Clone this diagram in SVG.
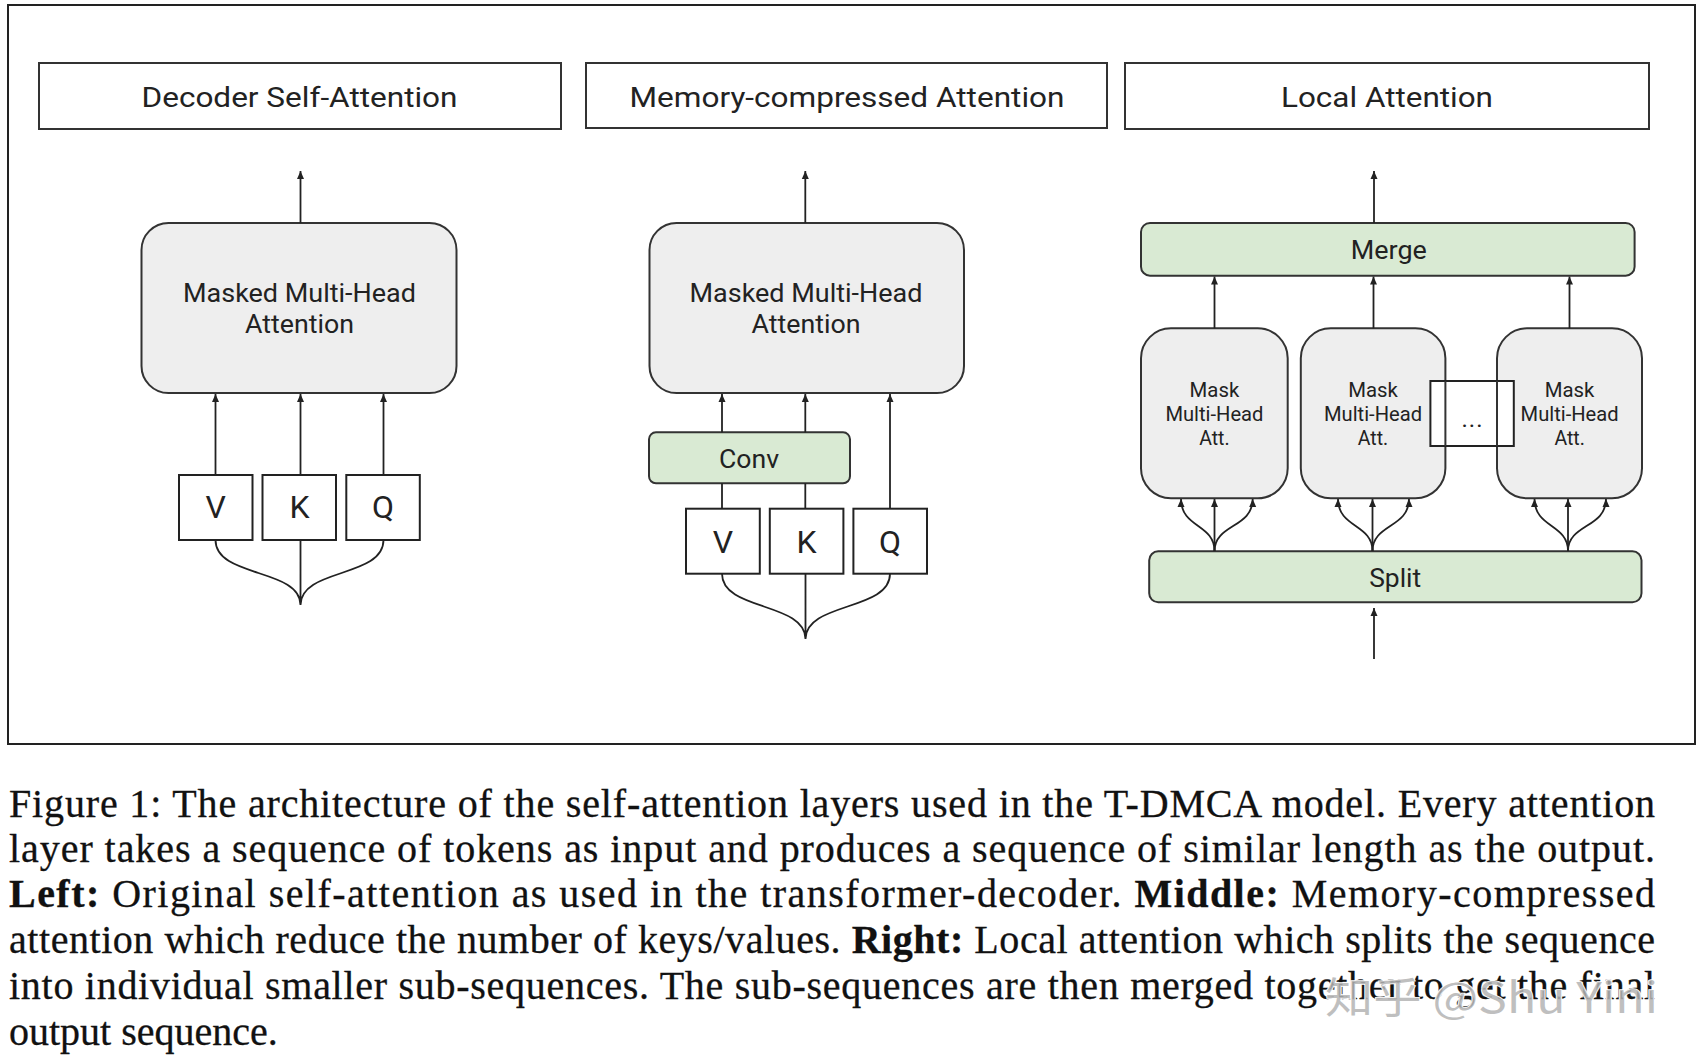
<svg xmlns="http://www.w3.org/2000/svg" width="1703" height="1062" viewBox="0 0 1703 1062">
<style>
.frame{fill:none;stroke:#222;stroke-width:2}
.title{fill:#fff;stroke:#333;stroke-width:2}
.mha{fill:#eeeeee;stroke:#333;stroke-width:2}
.green{fill:#d9ead3;stroke:#333;stroke-width:2}
.box{fill:#fff;stroke:#222;stroke-width:2}
.outline{fill:none;stroke:#333;stroke-width:2}
.ln{fill:none;stroke:#222;stroke-width:1.8}
.arr{fill:none;stroke:#222;stroke-width:1.8;marker-end:url(#ah)}
.t{font-family:Roboto,"Liberation Sans",sans-serif;fill:#222}
.cap{font-family:"Liberation Serif","Times New Roman",serif;font-size:40px;fill:#111;stroke:#111;stroke-width:0.3}
.b{font-weight:bold}
</style>
<defs>
<marker id="ah" markerWidth="8" markerHeight="8" refX="8" refY="4" orient="auto" markerUnits="userSpaceOnUse"><path d="M0,0.5 L8,4 L0,7.5 z" fill="#222"/></marker>
</defs>
<rect width="1703" height="1062" fill="#fff"/>
<rect class="frame" x="8" y="5" width="1687" height="739"/>

<g id="title-decoder"><rect class="title" x="39" y="63" width="522" height="66"/><text class="t" x="141.5" y="107" font-size="28" textLength="316" lengthAdjust="spacingAndGlyphs">Decoder Self-Attention</text></g>
<g id="title-memory"><rect class="title" x="586" y="63" width="521" height="65"/><text class="t" x="629.5" y="107" font-size="28" textLength="435" lengthAdjust="spacingAndGlyphs">Memory-compressed Attention</text></g>
<g id="title-local"><rect class="title" x="1125" y="63" width="524" height="66"/><text class="t" x="1281" y="107" font-size="28" textLength="212" lengthAdjust="spacingAndGlyphs">Local Attention</text></g>

<g id="mha-left"><rect class="mha" x="141.5" y="223" width="315" height="170" rx="27"/><text class="t" x="183" y="302" font-size="25.5" textLength="233" lengthAdjust="spacingAndGlyphs">Masked Multi-Head</text><text class="t" x="245" y="333" font-size="25.5" textLength="109" lengthAdjust="spacingAndGlyphs">Attention</text></g>
<g id="v-left"><rect class="box" x="179" y="475" width="73.5" height="65"/><text class="t" x="215.8" y="518" font-size="32" text-anchor="middle">V</text></g>
<g id="k-left"><rect class="box" x="262.5" y="475" width="73.5" height="65"/><text class="t" x="299.5" y="518" font-size="32" text-anchor="middle">K</text></g>
<g id="q-left"><rect class="box" x="346.3" y="475" width="73.5" height="65"/><text class="t" x="383" y="518" font-size="32" text-anchor="middle">Q</text></g>

<g id="mha-mid"><rect class="mha" x="649.5" y="223" width="314.5" height="170" rx="27"/><text class="t" x="689.5" y="302" font-size="25.5" textLength="233" lengthAdjust="spacingAndGlyphs">Masked Multi-Head</text><text class="t" x="751.6" y="333" font-size="25.5" textLength="109" lengthAdjust="spacingAndGlyphs">Attention</text></g>
<g id="conv"><rect class="green" x="649" y="432.3" width="201" height="51" rx="7"/><text class="t" x="719" y="468" font-size="26" textLength="60" lengthAdjust="spacingAndGlyphs">Conv</text></g>
<g id="v-mid"><rect class="box" x="686" y="508.7" width="73.8" height="65"/><text class="t" x="723" y="553" font-size="32" text-anchor="middle">V</text></g>
<g id="k-mid"><rect class="box" x="769.8" y="508.7" width="73.6" height="65"/><text class="t" x="806.6" y="553" font-size="32" text-anchor="middle">K</text></g>
<g id="q-mid"><rect class="box" x="853.4" y="508.7" width="73.6" height="65"/><text class="t" x="890" y="553" font-size="32" text-anchor="middle">Q</text></g>

<g id="merge"><rect class="green" x="1141" y="223" width="493.6" height="52.7" rx="9"/><text class="t" x="1350.8" y="259" font-size="26" textLength="76" lengthAdjust="spacingAndGlyphs">Merge</text></g>
<g id="head-1"><rect class="mha" x="1141" y="328.3" width="146.7" height="170" rx="30"/><text class="t" x="1189.6" y="397" font-size="20" textLength="49.6" lengthAdjust="spacingAndGlyphs">Mask</text><text class="t" x="1165.4" y="421" font-size="20" textLength="98" lengthAdjust="spacingAndGlyphs">Multi-Head</text><text class="t" x="1199.2" y="445" font-size="20" textLength="30.4" lengthAdjust="spacingAndGlyphs">Att.</text></g>
<g id="head-2"><rect class="mha" x="1300.8" y="328.3" width="144.6" height="170" rx="30"/><text class="t" x="1348.2" y="397" font-size="20" textLength="49.6" lengthAdjust="spacingAndGlyphs">Mask</text><text class="t" x="1324" y="421" font-size="20" textLength="98" lengthAdjust="spacingAndGlyphs">Multi-Head</text><text class="t" x="1357.8" y="445" font-size="20" textLength="30.4" lengthAdjust="spacingAndGlyphs">Att.</text></g>
<g id="head-3"><rect class="mha" x="1497" y="328.3" width="145" height="170" rx="30"/><text class="t" x="1544.8" y="397" font-size="20" textLength="49.6" lengthAdjust="spacingAndGlyphs">Mask</text><text class="t" x="1520.6" y="421" font-size="20" textLength="98" lengthAdjust="spacingAndGlyphs">Multi-Head</text><text class="t" x="1554.4" y="445" font-size="20" textLength="30.4" lengthAdjust="spacingAndGlyphs">Att.</text></g>
<g id="ellipsis"><rect class="box" x="1430.4" y="381" width="83.4" height="65"/><path class="outline" d="M1445.4,381 V446 M1497,381 V446"/><text class="t" x="1461.5" y="427" font-size="24" textLength="21" lengthAdjust="spacing">...</text></g>
<g id="split"><rect class="green" x="1149.2" y="551.3" width="492.3" height="51" rx="9"/><text class="t" x="1369.2" y="587" font-size="26" textLength="52" lengthAdjust="spacingAndGlyphs">Split</text></g>

<g id="connectors">
<path class="arr" d="M300.5,223 V171"/>
<path class="arr" d="M215.5,475 V394"/>
<path class="arr" d="M300.5,475 V394"/>
<path class="arr" d="M383.5,475 V394"/>
<path class="ln" d="M215.5,540 C215.5,578 300.5,568 300.5,605 M383.5,540 C383.5,578 300.5,568 300.5,605 M300.5,540 V605"/>

<path class="arr" d="M805.3,223 V171"/>
<path class="arr" d="M722,432.3 V394"/>
<path class="arr" d="M805.3,432.3 V394"/>
<path class="arr" d="M890,508.7 V394"/>
<path class="ln" d="M722,508.7 V483.3 M805.3,508.7 V483.3"/>
<path class="ln" d="M722,573.7 C722,611 805.5,602 805.5,639 M890,573.7 C890,611 805.5,602 805.5,639 M805.5,573.7 V639"/>

<path class="arr" d="M1374,223 V171"/>
<path class="arr" d="M1214.5,328.3 V276.5"/>
<path class="arr" d="M1373.5,328.3 V276.5"/>
<path class="arr" d="M1569.5,328.3 V276.5"/>
<path class="arr" d="M1214.5,551 V499"/>
<path class="arr" d="M1214.5,551 C1214.5,524 1181,528 1181,499"/>
<path class="arr" d="M1214.5,551 C1214.5,524 1252.7,528 1252.7,499"/>
<path class="arr" d="M1372.5,551 V499"/>
<path class="arr" d="M1372.5,551 C1372.5,524 1338,528 1338,499"/>
<path class="arr" d="M1372.5,551 C1372.5,524 1409,528 1409,499"/>
<path class="arr" d="M1568,551 V499"/>
<path class="arr" d="M1568,551 C1568,524 1534.5,528 1534.5,499"/>
<path class="arr" d="M1568,551 C1568,524 1606,528 1606,499"/>
<path class="arr" d="M1374,659 V608"/>
</g>

<g id="caption">
<text class="cap" x="9" y="817" textLength="1646" lengthAdjust="spacing">Figure 1: The architecture of the self-attention layers used in the T-DMCA model. Every attention</text>
<text class="cap" x="9" y="862" textLength="1646" lengthAdjust="spacing">layer takes a sequence of tokens as input and produces a sequence of similar length as the output.</text>
<text class="cap" x="9" y="907" textLength="1646" lengthAdjust="spacing"><tspan class="b">Left:</tspan>  Original self-attention as used in the transformer-decoder.  <tspan class="b">Middle:</tspan>  Memory-compressed</text>
<text class="cap" x="9" y="953" textLength="1646" lengthAdjust="spacing">attention which reduce the number of keys/values. <tspan class="b">Right:</tspan> Local attention which splits the sequence</text>
<text class="cap" x="9" y="999" textLength="1646" lengthAdjust="spacing">into individual smaller sub-sequences. The sub-sequences are then merged together to get the final</text>
<text class="cap" x="9" y="1045">output sequence.</text>
<text x="1325" y="1013" font-family="'Noto Sans CJK SC','Noto Sans',sans-serif" font-size="42" fill="#b4b4b4" fill-opacity="0.85" stroke="#fff" stroke-width="1.5" paint-order="stroke" textLength="333" lengthAdjust="spacingAndGlyphs">知乎 @Shu Yini</text>
</g>
</svg>
